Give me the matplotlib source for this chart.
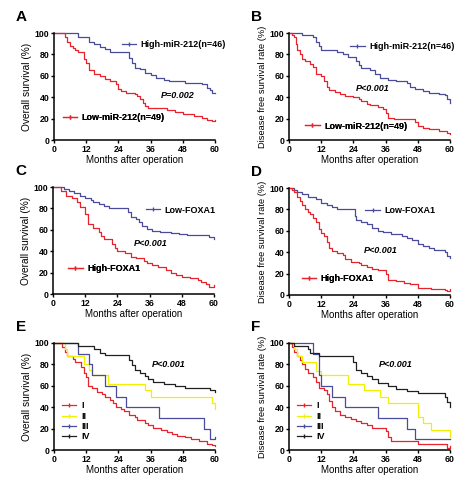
import matplotlib.pyplot as plt
from matplotlib.lines import Line2D

plt.rcParams['font.family'] = ['Liberation Sans', 'DejaVu Sans']
plt.rcParams['font.weight'] = 'bold'

RED = '#e8232b'
BLUE = '#4b4b9c'
YELLOW = '#f0f000'
BLACK = '#202020'

# ---- survival step data (months, %) ----
# A: overall survival by miR-212
a_high_t = [0, 9, 13, 15, 17, 19, 21, 28, 29, 30, 32, 34, 36, 38, 41, 43, 49, 55, 57, 58, 59, 60]
a_high_s = [100, 96, 92, 90, 87, 85, 82, 77, 72, 67, 66, 63, 61, 58, 56, 55, 53, 52, 49, 47, 44, 44]
a_low_t = [0, 4, 5, 6, 7, 8, 9, 11, 12, 13, 15, 17, 19, 21, 23, 24, 25, 27, 30, 31, 32, 33, 34, 35, 42, 45, 48, 52, 55, 57, 59, 60]
a_low_s = [100, 96, 92, 88, 86, 84, 82, 76, 72, 65, 62, 60, 57, 55, 52, 48, 46, 44, 43, 41, 38, 35, 32, 30, 28, 26, 24, 22, 21, 19, 18, 19]

# B: disease free survival by miR-212
b_high_t = [0, 5, 9, 10, 11, 12, 18, 20, 22, 25, 26, 27, 30, 32, 34, 37, 40, 44, 45, 47, 50, 52, 56, 58, 59, 60]
b_high_s = [100, 98, 96, 92, 88, 84, 82, 80, 78, 74, 70, 67, 65, 62, 58, 56, 55, 53, 50, 48, 46, 44, 43, 42, 38, 35]
b_low_t = [0, 1, 2, 2.5, 3, 4, 5, 6, 8, 9, 10, 12, 13, 14, 15, 17, 19, 21, 24, 26, 27, 29, 30, 33, 35, 36, 37, 39, 47, 48, 50, 52, 56, 59, 60]
b_low_s = [100, 98, 96, 90, 84, 80, 76, 74, 71, 68, 62, 60, 55, 50, 47, 45, 43, 41, 40, 38, 36, 34, 33, 31, 29, 25, 21, 20, 17, 13, 11, 10, 8, 7, 6]

# C: overall survival by FOXA1
c_low_t = [0, 4, 6, 8, 10, 12, 14, 15, 17, 19, 21, 28, 29, 31, 32, 33, 35, 37, 40, 44, 47, 50, 58, 60]
c_low_s = [100, 98, 96, 94, 92, 90, 88, 86, 84, 82, 80, 77, 72, 70, 67, 64, 61, 59, 58, 57, 56, 55, 53, 51]
c_high_t = [0, 3, 5, 7, 9, 10, 12, 13, 15, 17, 18, 19, 22, 23, 24, 27, 29, 31, 34, 35, 37, 39, 42, 44, 46, 48, 51, 54, 55, 57, 58, 60]
c_high_s = [100, 96, 92, 90, 86, 81, 75, 65, 62, 58, 54, 51, 47, 43, 40, 38, 35, 34, 31, 29, 27, 25, 22, 20, 18, 16, 15, 13, 11, 9, 7, 8]

# D: disease free survival by FOXA1
d_low_t = [0, 2, 3, 5, 7, 10, 12, 14, 16, 18, 24.5, 25, 27, 29, 31, 33, 35, 38, 42, 44, 46, 48, 50, 52, 54, 58, 59, 60]
d_low_s = [100, 98, 96, 94, 92, 90, 86, 84, 82, 80, 74, 70, 68, 66, 63, 60, 59, 57, 55, 53, 51, 48, 46, 44, 42, 40, 36, 35]
d_high_t = [0, 1, 2, 3, 4, 5, 6, 7, 8, 9, 10, 11, 12, 13, 14, 15, 16, 18, 20, 21, 23, 26, 27, 29, 31, 33, 36, 37, 40, 43, 45, 48, 53, 58, 59, 60]
d_high_s = [100, 98, 96, 92, 88, 84, 80, 78, 76, 72, 68, 62, 58, 55, 50, 44, 41, 39, 37, 34, 31, 30, 28, 26, 24, 23, 20, 14, 13, 11, 10, 7, 6, 5, 4, 6]

# E: overall survival by stage
e1_t = [0, 3, 4, 5, 7, 8, 10, 11, 12, 12.5, 14, 16, 18, 19, 21, 22, 23, 25, 26, 28, 30, 31, 34, 35, 37, 40, 42, 44, 46, 49, 51, 54, 57, 59, 60]
e1_s = [100, 96, 92, 88, 85, 82, 78, 72, 68, 60, 58, 54, 52, 50, 47, 44, 40, 38, 36, 33, 31, 28, 25, 23, 21, 19, 17, 15, 13, 12, 10, 8, 6, 5, 4]
e2_t = [0, 4, 5, 11, 13, 14, 20, 34, 36, 59, 60]
e2_s = [100, 94, 88, 80, 75, 70, 62, 56, 50, 44, 38]
e3_t = [0, 9, 13, 14, 19, 23, 27, 39, 56, 58, 60]
e3_s = [100, 90, 80, 70, 60, 50, 40, 30, 20, 10, 12]
e4_t = [0, 9, 15, 17, 19, 28, 29, 30, 32, 34, 35, 37, 41, 45, 49, 58, 60]
e4_s = [100, 97, 94, 91, 89, 84, 79, 75, 72, 69, 66, 64, 62, 60, 58, 56, 54]

# F: disease free survival by stage
f1_t = [0, 1, 2, 3, 4, 5, 6, 7, 9, 10, 11, 13, 14, 15, 16, 17, 19, 21, 23, 25, 27, 29, 31, 36, 37, 38, 48, 59, 60]
f1_s = [100, 96, 92, 88, 84, 80, 76, 72, 68, 64, 58, 56, 52, 46, 40, 36, 33, 31, 29, 27, 25, 23, 21, 18, 12, 8, 6, 2, 4]
f2_t = [0, 2, 3, 5, 10, 12, 22, 28, 34, 37, 48, 50, 53, 60]
f2_s = [100, 94, 88, 82, 74, 70, 62, 56, 50, 44, 31, 25, 19, 12]
f3_t = [0, 9, 11, 12, 16, 21, 33, 44, 47, 60]
f3_s = [100, 90, 70, 60, 50, 40, 30, 20, 10, 10]
f4_t = [0, 2, 7, 8, 11, 24, 25, 27, 29, 31, 33, 37, 40, 44, 48, 58, 59, 60]
f4_s = [100, 97, 94, 91, 88, 82, 75, 72, 69, 66, 63, 60, 57, 55, 53, 50, 45, 40]

OS = 'Overall survival (%)'
DFS = 'Disease free survival rate (%)'

fig = plt.figure(figsize=(4.74, 4.82), dpi=100)

W, H = 474, 482
panels = [
    ('A', 54, 33, OS, 7.3), ('B', 289, 33, DFS, 6.7),
    ('C', 53, 187, OS, 7.3), ('D', 289, 188, DFS, 6.7),
    ('E', 54, 343, OS, 7.3), ('F', 289, 343, DFS, 6.7),
]
axes = {}
for letter, x0, y0, ylab, yfs in panels:
    ax = fig.add_axes([x0 / W, 1 - (y0 + 107) / H, 161 / W, 107 / H])
    ax.set_xlim(0, 60)
    ax.set_ylim(0, 100)
    ax.set_xticks([0, 12, 24, 36, 48, 60])
    ax.set_yticks([0, 20, 40, 60, 80, 100])
    ax.spines['top'].set_visible(False)
    ax.spines['right'].set_visible(False)
    ax.spines['left'].set_linewidth(1.1)
    ax.spines['bottom'].set_linewidth(1.1)
    ax.tick_params(labelsize=6.3, length=2.5, width=1, pad=1)
    ax.set_xlabel('Months after operation', fontsize=7, labelpad=1)
    ax.set_ylabel(ylab, fontsize=yfs, labelpad=2)
    fig.text((x0 - 38) / W, 1 - (y0 - 23) / H, letter, fontsize=11,
             fontweight='bold', ha='left', va='top')
    axes[letter] = ax


def km(ax, t, s, color, label):
    ax.step(t, s, where='post', color=color, lw=0.9, clip_on=False)
    return Line2D([], [], color=color, lw=0.9, marker='|', markersize=3,
                  label=label)


def single_legend(ax, handle, x, y):
    leg = ax.legend(handles=[handle], loc='center left', bbox_to_anchor=(x, y),
                    frameon=False, fontsize=6.5, handlelength=1.6, numpoints=1,
                    handletextpad=0.5, borderaxespad=0, borderpad=0)
    ax.add_artist(leg)


def p_text(ax, x, y, txt):
    ax.text(x, y, txt, transform=ax.transAxes, ha='center', va='center',
            fontsize=6.5, fontweight='bold', style='italic')


ax = axes['A']
h1 = km(ax, a_high_t, a_high_s, BLUE, 'High-miR-212(n=46)')
h2 = km(ax, a_low_t, a_low_s, RED, 'Low-miR-212(n=49)')
single_legend(ax, h1, 0.42, 0.89)
single_legend(ax, h2, 0.055, 0.21)
p_text(ax, 0.77, 0.42, 'P=0.002')

ax = axes['B']
h1 = km(ax, b_high_t, b_high_s, BLUE, 'High-miR-212(n=46)')
h2 = km(ax, b_low_t, b_low_s, RED, 'Low-miR-212(n=49)')
single_legend(ax, h1, 0.38, 0.87)
single_legend(ax, h2, 0.10, 0.13)
p_text(ax, 0.52, 0.48, 'P<0.001')

ax = axes['C']
h1 = km(ax, c_low_t, c_low_s, BLUE, 'Low-FOXA1')
h2 = km(ax, c_high_t, c_high_s, RED, 'High-FOXA1')
single_legend(ax, h1, 0.575, 0.785)
single_legend(ax, h2, 0.094, 0.24)
p_text(ax, 0.61, 0.47, 'P<0.001')

ax = axes['D']
h1 = km(ax, d_low_t, d_low_s, BLUE, 'Low-FOXA1')
h2 = km(ax, d_high_t, d_high_s, RED, 'High-FOXA1')
single_legend(ax, h1, 0.475, 0.79)
single_legend(ax, h2, 0.08, 0.15)
p_text(ax, 0.57, 0.415, 'P<0.001')

for letter, data in [('E', [(e1_t, e1_s), (e2_t, e2_s), (e3_t, e3_s), (e4_t, e4_s)]),
                     ('F', [(f1_t, f1_s), (f2_t, f2_s), (f3_t, f3_s), (f4_t, f4_s)])]:
    ax = axes[letter]
    handles = []
    for (t, s), c, lab in zip(data, [RED, YELLOW, BLUE, BLACK], ['I', 'II', 'III', 'IV']):
        handles.append(km(ax, t, s, c, lab))
    ax.legend(handles=handles, loc='lower left', bbox_to_anchor=(0.05, 0.08),
              frameon=False, fontsize=6.5, handlelength=1.6, numpoints=1,
              handletextpad=0.5, labelspacing=0.15, borderaxespad=0, borderpad=0)
    p_text(ax, 0.71 if letter == 'E' else 0.66, 0.8, 'P<0.001')

fig.savefig('out.png', dpi=100)
